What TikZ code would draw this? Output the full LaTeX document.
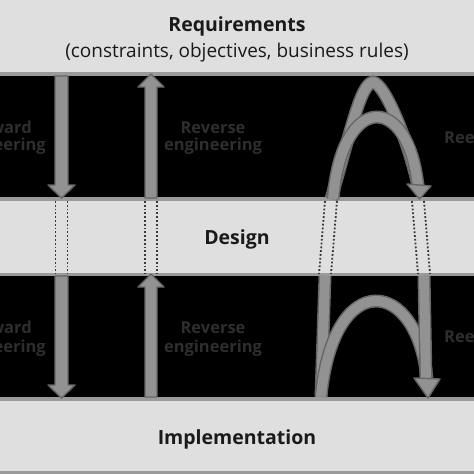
\documentclass[tikz,border=0pt]{standalone}
\usepackage{fontspec}
\setmainfont{Open Sans}
\definecolor{bandlight}{HTML}{DFDFDF}
\definecolor{bandline}{HTML}{9A9A9A}
\definecolor{arrowfill}{HTML}{929292}
\definecolor{arrowedge}{HTML}{666666}
\definecolor{dotcol}{HTML}{3A3A3A}
\definecolor{dimtext}{HTML}{2E2E2E}
\definecolor{maintext}{HTML}{1A1A1A}
\begin{document}
\begin{tikzpicture}[x=1pt,y=-1pt,
  arrowbody/.style={fill=arrowfill,draw=arrowedge,line width=1.4pt,line join=round},
  curveedge/.style={draw=arrowedge,line width=13pt},
  curvefill/.style={draw=arrowfill,line width=10pt},
  trace/.style={draw=dotcol,line width=1.8pt,dash pattern=on 1.8pt off 2pt},
  title/.style={font=\bfseries\fontsize{19.5}{22}\selectfont,text=maintext,anchor=base,inner sep=0pt},
  subtitle/.style={font=\fontsize{19}{22}\selectfont,text=maintext,anchor=base,inner sep=0pt},
  dim/.style={font=\bfseries\fontsize{16.5}{19}\selectfont,text=dimtext,inner sep=0pt}]
\useasboundingbox (0,0) rectangle (474,474);
% bands
\fill[bandlight] (0,0) rectangle (474,72);
\fill[bandline] (0,72) rectangle (474,76);
\fill[black] (0,76) rectangle (474,197);
\fill[bandline] (0,197) rectangle (474,201);
\fill[bandlight] (0,201) rectangle (474,273);
\fill[bandline] (0,273) rectangle (474,276);
\fill[black] (0,276) rectangle (474,397);
\fill[bandline] (0,397) rectangle (474,401);
\fill[bandlight] (0,401) rectangle (474,471);
\fill[bandline] (0,471) rectangle (474,474);
% dotted traces in design band
\draw[trace] (55.5,201) -- (55.5,274);
\draw[trace] (67.5,201) -- (67.5,274);
\draw[trace] (145,201) -- (145,274);
\draw[trace] (157,201) -- (157,274);
\draw[trace] (325,201) -- (319,274);
\draw[trace] (337,201) -- (331,274);
\draw[trace] (412,201) -- (418,274);
\draw[trace] (424,201) -- (430,274);
% forward engineering arrows
\draw[arrowbody] (55,76) -- (68,76) -- (68,185) -- (75,185) -- (61.5,198) -- (48,185) -- (55,185) -- cycle;
\draw[arrowbody] (55,276) -- (68,276) -- (68,385) -- (75,385) -- (61.5,398) -- (48,385) -- (55,385) -- cycle;
% reverse engineering arrows
\draw[arrowbody] (145,198) -- (157,198) -- (157,87) -- (164,87) -- (151,74) -- (138,87) -- (145,87) -- cycle;
\draw[arrowbody] (145,397) -- (157,397) -- (157,287) -- (164,287) -- (151,274) -- (138,287) -- (145,287) -- cycle;
% reengineering, upper
\draw[curveedge,line join=round] (331,199) .. controls (350,135) and (360,84) .. (373,82) .. controls (385,84) and (408,140) .. (418,186);
\draw[curvefill,line join=round] (331,199) .. controls (350,135) and (360,84) .. (373,82) .. controls (385,84) and (408,140) .. (418,186);
\draw[curveedge] (333,199) .. controls (342,92) and (408,92) .. (418,186);
\draw[curvefill] (333,199) .. controls (342,92) and (408,92) .. (418,186);
\draw[arrowbody] (407,184) -- (431,186) -- (419.5,199) -- cycle;
% reengineering, lower
\draw[curveedge] (325,276) -- (321,397);
\draw[curvefill] (325,276) -- (321,397);
\draw[curveedge] (321,396) .. controls (334,266) and (418,278) .. (427,380);
\draw[curvefill] (321,396) .. controls (334,266) and (418,278) .. (427,380);
\draw[curveedge] (424,276) -- (426,380);
\draw[curvefill] (424,276) -- (426,380);
\draw[arrowbody] (414,378) -- (440,379) -- (428,398) -- cycle;
% texts
\node[title] (req) at (237,31) {Requirements};
\node[subtitle] (reqsub) at (237,57) {(constraints, objectives, business rules)};
\node[title] (design) at (237,244) {Design};
\node[title] (impl) at (237,444) {Implementation};
\node[dim,anchor=base] (revA1) at (213,133) {Reverse};
\node[dim,anchor=base] (revA2) at (213,150) {engineering};
\node[dim,anchor=base] (revB1) at (213,333) {Reverse};
\node[dim,anchor=base] (revB2) at (213,352) {engineering};
\node[dim,anchor=base east] (fwA1) at (32,133) {ward};
\node[dim,anchor=base east] (fwA2) at (46,150) {eering};
\node[dim,anchor=base east] (fwB1) at (32,333) {ward};
\node[dim,anchor=base east] (fwB2) at (46,352) {eering};
\node[dim,anchor=base west] (reA) at (444,143) {Ree};
\node[dim,anchor=base west] (reB) at (444,342) {Ree};
\end{tikzpicture}
\end{document}
